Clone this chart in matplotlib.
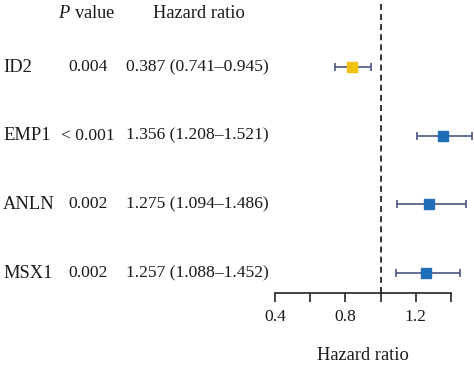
import matplotlib
matplotlib.use("Agg")
import matplotlib.pyplot as plt
from matplotlib.transforms import blended_transform_factory

plt.rcParams['font.family'] = ['Liberation Serif', 'DejaVu Serif']
plt.rcParams['mathtext.fontset'] = 'custom'
plt.rcParams['mathtext.rm'] = 'Liberation Serif'
plt.rcParams['mathtext.it'] = 'Liberation Serif:italic'

genes = ['ID2', 'EMP1', 'ANLN', 'MSX1']
p_labels = ['0.004', '< 0.001', '0.002', '0.002']
hr_text = ['0.387', '1.356', '1.275', '1.257']
lower = [0.741, 1.208, 1.094, 1.088]
upper = [0.945, 1.521, 1.486, 1.452]
hr_plotted = [0.84, 1.356, 1.275, 1.257]  # marker positions as drawn
marker_colors = ['#F0C20E', '#1F6EB7', '#1F6EB7', '#1F6EB7']
tick_values = [0.4, 0.6, 0.8, 1.0, 1.2, 1.4]
tick_labels = ['0.4', '', '0.8', '', '1.2', '']

W, H = 474, 370
fig = plt.figure(figsize=(W / 100, H / 100), dpi=100)
ax = fig.add_axes([275 / W, 77 / H, 176 / W, 293 / H])

ax.set_xlim(0.4, 1.4)
ax.set_ylim(3.29, -0.976)

ax.axvline(1.0, color='#333333', lw=1.4, linestyle=(0, (3.1, 2.1)), zorder=1)

fs = 12.6
fw = 13.3
tc = '#1a1a1a'
ypos = list(range(len(genes)))
for i, g in enumerate(genes):
    eb = ax.errorbar(hr_plotted[i], ypos[i],
                     xerr=[[hr_plotted[i] - lower[i]], [upper[i] - hr_plotted[i]]],
                     fmt='none', ecolor='#4A5583', elinewidth=1.2, capsize=3.0,
                     capthick=1.2, zorder=2)
    for art in eb.get_children():
        art.set_clip_on(False)
    ax.plot(hr_plotted[i], ypos[i], marker='s', ms=7.8, color=marker_colors[i],
            mec=marker_colors[i], ls='none', zorder=3, clip_on=False)

tr = blended_transform_factory(fig.transFigure, ax.transData)
for i, g in enumerate(genes):
    ax.text(3 / W, ypos[i], g, transform=tr, ha='left', va='center', fontsize=fw, color=tc)
    ax.text(88 / W, ypos[i], p_labels[i], transform=tr, ha='center', va='center', fontsize=fs, color=tc)
    ax.text(126 / W, ypos[i], f'{hr_text[i]} ({lower[i]:.3f}\u2013{upper[i]:.3f})', transform=tr,
            ha='left', va='center', fontsize=fs, color=tc)

fig.text(87 / W, 1 - 13 / H, r'$P$ value', ha='center', va='center', fontsize=fw, color=tc)
fig.text(199 / W, 1 - 13 / H, 'Hazard ratio', ha='center', va='center', fontsize=fw, color=tc)

for s in ['top', 'left', 'right']:
    ax.spines[s].set_visible(False)
ax.spines['bottom'].set_linewidth(1.2)
ax.spines['bottom'].set_color('#222222')
ax.set_yticks([])
ax.set_xticks(tick_values)
ax.set_xticklabels(tick_labels)
ax.tick_params(axis='x', length=6.5, width=1.2, color='#222222', pad=5, labelsize=fs, labelcolor=tc)
ax.set_xlabel('Hazard ratio', fontsize=fw, labelpad=16, color=tc)
ax.patch.set_alpha(0)

fig.savefig('out.png', dpi=100)
